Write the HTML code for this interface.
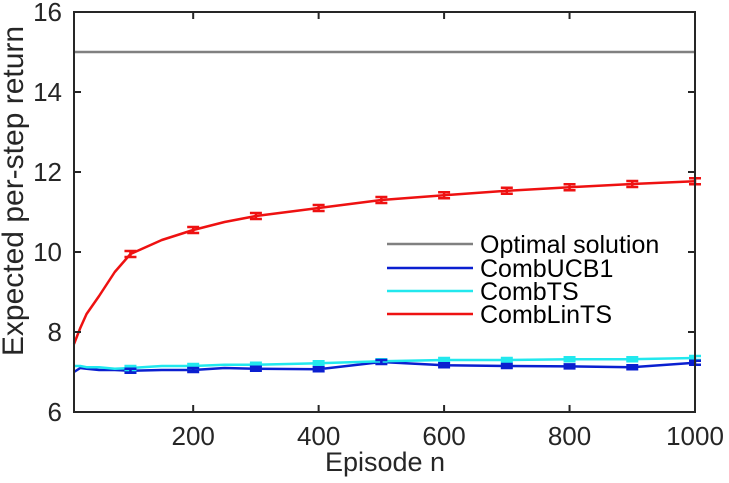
<!DOCTYPE html>
<html><head><meta charset="utf-8"><style>
body{margin:0;background:#fff;}
svg text{font-family:"Liberation Sans",sans-serif;}
</style></head><body>
<svg width="729" height="478" id="chart">
</svg>
<script>
const xs=[10,20,30,50,75,100,150,200,250,300,400,500,600,700,800,900,1000];
const optimal=[15,15,15,15,15,15,15,15,15,15,15,15,15,15,15,15,15];
const combUCB1=[7.0,7.1,7.08,7.05,7.05,7.03,7.05,7.05,7.1,7.08,7.07,7.25,7.17,7.15,7.14,7.12,7.23];
const combTS=[7.15,7.15,7.12,7.12,7.08,7.1,7.15,7.15,7.18,7.18,7.22,7.27,7.3,7.3,7.32,7.32,7.35];
const combLinTS=[7.7,8.1,8.45,8.9,9.5,9.95,10.3,10.55,10.75,10.9,11.1,11.3,11.42,11.53,11.62,11.7,11.77];
const xTicks=[200,400,600,800,1000];
const yTicks=[6,8,10,12,14,16];
const L=74,R=695,T=12,B=412,XMIN=10,XMAX=1000,YMIN=6,YMAX=16;
const sx=v=>L+(v-XMIN)/(XMAX-XMIN)*(R-L);
const sy=v=>B-(v-YMIN)/(YMAX-YMIN)*(B-T);
const svg=document.getElementById('chart');
const NS='http://www.w3.org/2000/svg';
function mk(t,a){const e=document.createElementNS(NS,t);for(const k in a)e.setAttribute(k,a[k]);svg.appendChild(e);return e;}
const series=[[optimal,'#808080','optimal-line'],[combUCB1,'#0a1fd0','combucb1-line'],[combTS,'#22e8ee','combts-line'],[combLinTS,'#ee1111','comblints-line']];
series.forEach(([d,c,n])=>{
 const p=mk('polyline',{points:xs.map((x,i)=>sx(x)+','+sy(d[i])).join(' '),fill:'none',stroke:c,'stroke-width':2.5,'stroke-linejoin':'round'});
 
 
});
xs.forEach((x,i)=>{ if(x%100===0){
 [[combLinTS,'#ee1111',3],[combTS,'#22e8ee',2],[combUCB1,'#0a1fd0',2]].forEach(([d,c,h])=>{
 const e=mk('path',{d:`M${sx(x)-6},${sy(d[i])-h}h12M${sx(x)},${sy(d[i])-h}v${2*h}M${sx(x)-6},${sy(d[i])+h}h12`,stroke:c,'stroke-width':2.5,fill:'none'});
 
 
 });
}});
const ax=mk('rect',{x:L,y:T,width:R-L,height:B-T,fill:'none',stroke:'#262626','stroke-width':2});


xTicks.forEach(v=>{
 mk('line',{x1:sx(v),x2:sx(v),y1:B,y2:B-7,stroke:'#262626','stroke-width':2});
 mk('line',{x1:sx(v),x2:sx(v),y1:T,y2:T+7,stroke:'#262626','stroke-width':2});
 const t=mk('text',{x:sx(v),y:445,'text-anchor':'middle','font-size':26,fill:'#262626'});t.textContent=v;
 
 
});
yTicks.forEach(v=>{
 mk('line',{x1:L,x2:L+7,y1:sy(v),y2:sy(v),stroke:'#262626','stroke-width':2});
 mk('line',{x1:R,x2:R-7,y1:sy(v),y2:sy(v),stroke:'#262626','stroke-width':2});
 const t=mk('text',{x:62,y:sy(v)+9,'text-anchor':'end','font-size':26,fill:'#262626'});t.textContent=v;
 
 
});
const xl=mk('text',{x:385,y:471,'text-anchor':'middle','font-size':27,fill:'#262626'});xl.textContent='Episode n';


const yl=mk('text',{x:0,y:0,transform:'translate(23,191) rotate(-90)','text-anchor':'middle','font-size':30,fill:'#262626'});yl.textContent='Expected per-step return';


const labels=['Optimal solution','CombUCB1','CombTS','CombLinTS'];
const ly=[244,268,291,314];
series.forEach(([d,c],i)=>{
 const l=mk('line',{x1:387,x2:473,y1:ly[i],y2:ly[i],stroke:c,'stroke-width':2.5});
 
 
 const t=mk('text',{x:480,y:ly[i]+9,'font-size':25,fill:'#000'});t.textContent=labels[i];
 
 
});
</script>
</body></html>
